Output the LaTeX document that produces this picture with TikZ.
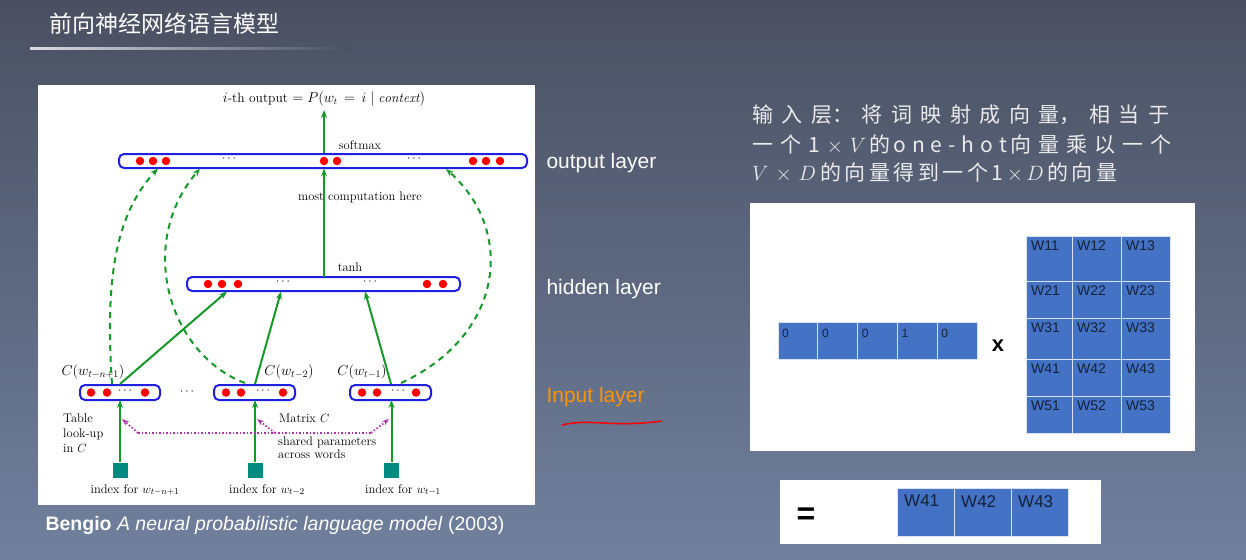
\documentclass[tikz,border=0pt]{standalone}
\usepackage{fontspec}
\setsansfont{Liberation Sans}
\newfontfamily\cjk{Noto Sans CJK SC}
\usetikzlibrary{arrows.meta,shapes.misc}
\definecolor{bgtop}{HTML}{4A5061}
\definecolor{bgbot}{HTML}{70809E}
\definecolor{gr}{HTML}{159A2A}
\definecolor{bl}{HTML}{2020E0}
\definecolor{cellb}{HTML}{4472C4}
\definecolor{mag}{HTML}{B030B0}
\definecolor{sqc}{HTML}{008B80}
\tikzset{
 bar/.style={draw=bl,line width=2pt,rounded corners=5pt,fill=white},
 rdot/.style={circle,fill=red,inner sep=0pt,minimum size=8.5pt},
 sarr/.style={draw=gr,line width=2pt,-{Stealth[length=8pt,width=6pt]}},
 darr/.style={draw=gr,line width=2pt,dash pattern=on 6pt off 5pt,-{Stealth[length=8pt,width=6pt]}},
 marr/.style={draw=mag,line width=1.8pt,dash pattern=on 1.5pt off 2pt,-{Stealth[length=7pt,width=5pt]}},
 sq/.style={fill=sqc,minimum size=15pt,inner sep=0pt},
 ftxt/.style={font=\fontsize{12.5}{14}\selectfont,inner sep=1pt},
 lay/.style={font=\sffamily\fontsize{21}{24}\selectfont,text=white,anchor=west},
 cell/.style={draw=white!80!cellb,line width=1pt,fill=cellb},
 ctxt/.style={font=\sffamily\fontsize{14}{16}\selectfont,text=black!70!cellb,anchor=north west,inner sep=0pt},
 cn/.style={font=\cjk\fontsize{21}{24}\selectfont,text=white!92!black,anchor=west,inner sep=0pt},
}
\begin{document}
\begin{tikzpicture}[x=1pt,y=-1pt]
\useasboundingbox (0,0) rectangle (1246,559);
\shade[top color=bgtop,bottom color=bgbot] (0,0) rectangle (1246,559);
\node[font=\cjk\fontsize{23}{26}\selectfont,text=white,anchor=west] (title) at (46,24) {前向神经网络语言模型};
\shade[left color=white!80!bgtop,right color=bgtop] (30,47.5) rectangle (350,49.5);
\fill[white] (38,85) rectangle (535,505);
\node[ftxt,font=\fontsize{13.5}{15}\selectfont] (top) at (324,99) {$i$-th output $= P(w_t\,=\,i\mid \mathit{context})$};
\node[bar,minimum width=408pt,minimum height=14pt,inner sep=0pt] (ob) at (323,161) {};
\node[bar,minimum width=273pt,minimum height=14pt,inner sep=0pt] (hb) at (323.5,284) {};
\node[bar,minimum width=80pt,minimum height=15pt,inner sep=0pt] (ib1) at (120,392.5) {};
\node[bar,minimum width=81pt,minimum height=15pt,inner sep=0pt] (ib2) at (254.5,392.5) {};
\node[bar,minimum width=81pt,minimum height=15pt,inner sep=0pt] (ib3) at (390.5,392.5) {};
\foreach \x/\n in {140/a,153/b,166/c,324/d,337/e,473/f,486/g,500/h} \node[rdot] (o\n) at (\x,161) {};
\foreach \x/\n in {208/a,222/b,238/c,427/d,443/e} \node[rdot] (h\n) at (\x,284) {};
\foreach \x/\n in {91/a,107/b,145/c,226/d,241/e,283/f,362/g,377/h,416/i} \node[rdot] (i\n) at (\x,392.5) {};
\foreach \x/\y/\n in {229/159/d1,414/159/d2,283/282/d3,370/282/d4,125/391/d5,263/391/d6,398/391/d7,187/392/d8} \node[ftxt,font=\fontsize{12}{12}\selectfont] (\n) at (\x,\y) {$\cdots$};
\node[ftxt] (softmax) at (360,145) {softmax};
\node[ftxt] (most) at (360,197) {most computation here};
\node[ftxt] (tanh) at (350,267) {tanh};
\coordinate (otop) at (324,110);
\draw[sarr] (324,153) -- (otop);
\draw[sarr] (324,277) -- (324,168.5);
\node[sq] (s1) at (120,470) {};
\node[sq] (s2) at (255,470) {};
\node[sq] (s3) at (391.5,470) {};
\draw[sarr] (s1) -- (120,400);
\draw[sarr] (s2) -- (255,400);
\draw[sarr] (s3) -- (391.5,400);
\draw[sarr] (120,384) -- (227,291.5);
\draw[sarr] (255,384) -- (281,291.5);
\draw[sarr] (391,384) -- (365,291.5);
\draw[darr] (112,384) .. controls (105,280) and (115,215) .. (158,168.5);
\draw[darr] (245,383) .. controls (170,355) and (135,245) .. (200,168.5);
\draw[darr] (401,383) .. controls (505,335) and (515,230) .. (446,169);
\coordinate (m1) at (138,433);
\coordinate (m2) at (371,433);
\coordinate (m3) at (275,433);
\draw[mag,line width=1.8pt,dash pattern=on 1.5pt off 2pt] (m1) -- (m2);
\draw[marr] (m1) -- (122,419);
\draw[marr] (m3) -- (257,419);
\draw[marr] (m2) -- (389,419);
\node[ftxt,font=\fontsize{14}{16}\selectfont] (c1) at (93,372) {$C(w_{t-n+1})$};
\node[ftxt,font=\fontsize{14}{16}\selectfont] (c2) at (289,372) {$C(w_{t-2})$};
\node[ftxt,font=\fontsize{14}{16}\selectfont] (c3) at (362,372) {$C(w_{t-1})$};
\node[ftxt,anchor=north west,align=left,font=\fontsize{12.5}{15}\selectfont] (tab) at (62,413) {Table\\ look-up\\ in $C$};
\node[ftxt,anchor=west] (mat) at (278,418) {Matrix $C$};
\node[ftxt,anchor=north west,align=left,font=\fontsize{12.5}{13}\selectfont] (shp) at (277,436) {shared parameters\\across words};
\node[ftxt] (x1) at (135,490) {index for $w_{t-n+1}$};
\node[ftxt] (x2) at (267,490) {index for $w_{t-2}$};
\node[ftxt] (x3) at (403,490) {index for $w_{t-1}$};
\node[lay] (lo) at (543,163) {output layer};
\node[lay] (lh) at (543,289) {hidden layer};
\node[lay,text=orange!85!yellow] (li) at (543,397) {Input layer};
\draw[red,line width=1.5pt] (562,425) .. controls (590,418) and (610,428) .. (662,421);
\node[font=\sffamily\fontsize{19.5}{22}\selectfont,text=white,anchor=west] (cap) at (42,525) {\textbf{Bengio} \textit{A neural probabilistic language model} (2003)};
\node[cn] (t1) at (752,115) {输\hspace{8.5pt}入\hspace{8.5pt}层：\hspace{8.5pt}将\hspace{8.5pt}词\hspace{8.5pt}映\hspace{8.5pt}射\hspace{8.5pt}成\hspace{8.5pt}向\hspace{8.5pt}量，\hspace{8.5pt}相\hspace{8.5pt}当\hspace{8.5pt}于};
\node[cn] (t2) at (752,145) {一\hspace{7pt}个\hspace{7pt}1\hspace{7pt}$\times$\hspace{7pt}$V$\hspace{3pt}的\hspace{3pt}o\hspace{6pt}n\hspace{6pt}e\hspace{6pt}-\hspace{6pt}h\hspace{6pt}o\hspace{6pt}t\hspace{3pt}向\hspace{7pt}量\hspace{7pt}乘\hspace{7pt}以\hspace{7pt}一\hspace{7pt}个};
\node[cn] (t3) at (752,173) {$V$\hspace{7pt}$\times$\hspace{7pt}$D$\hspace{4pt}的\,向\,量\,得\,到\,一\,个\,1\,$\times$\,$D$\,的\,向\,量};
\fill[white] (750,203) rectangle (1195,451);
\foreach \i/\v in {0/0,1/0,2/0,3/1,4/0} {
  \draw[cell] (778+\i*39.8,322) rectangle (778+\i*39.8+39.8,359);
  \node[ctxt,font=\sffamily\fontsize{12}{14}\selectfont] (v\i) at (782+\i*39.8,329) {\v};
}
\node[font=\sffamily\bfseries\fontsize{22}{24}\selectfont] (times) at (998,346) {x};
\foreach \c/\xa/\xb in {1/1026/1072,2/1072/1121,3/1121/1170}
 \foreach \r/\ya/\yb in {1/236/281,2/281/318,3/318/359,4/359/396,5/396/433} {
  \draw[cell] (\xa,\ya) rectangle (\xb,\yb);
  \node[ctxt] (w\r\c) at (\xa+5,\ya+5) {W\r\c};
 }
\fill[white] (780,480) rectangle (1101,544);
\node[font=\sffamily\bfseries\fontsize{32}{34}\selectfont] (eq) at (806,516) {=};
\foreach \c/\xa in {1/897,2/954,3/1011} {
  \draw[cell] (\xa,488) rectangle (\xa+57,536);
  \node[ctxt,font=\sffamily\fontsize{17}{19}\selectfont] (r\c) at (\xa+7,495) {W4\c};
}
\end{tikzpicture}
\end{document}
